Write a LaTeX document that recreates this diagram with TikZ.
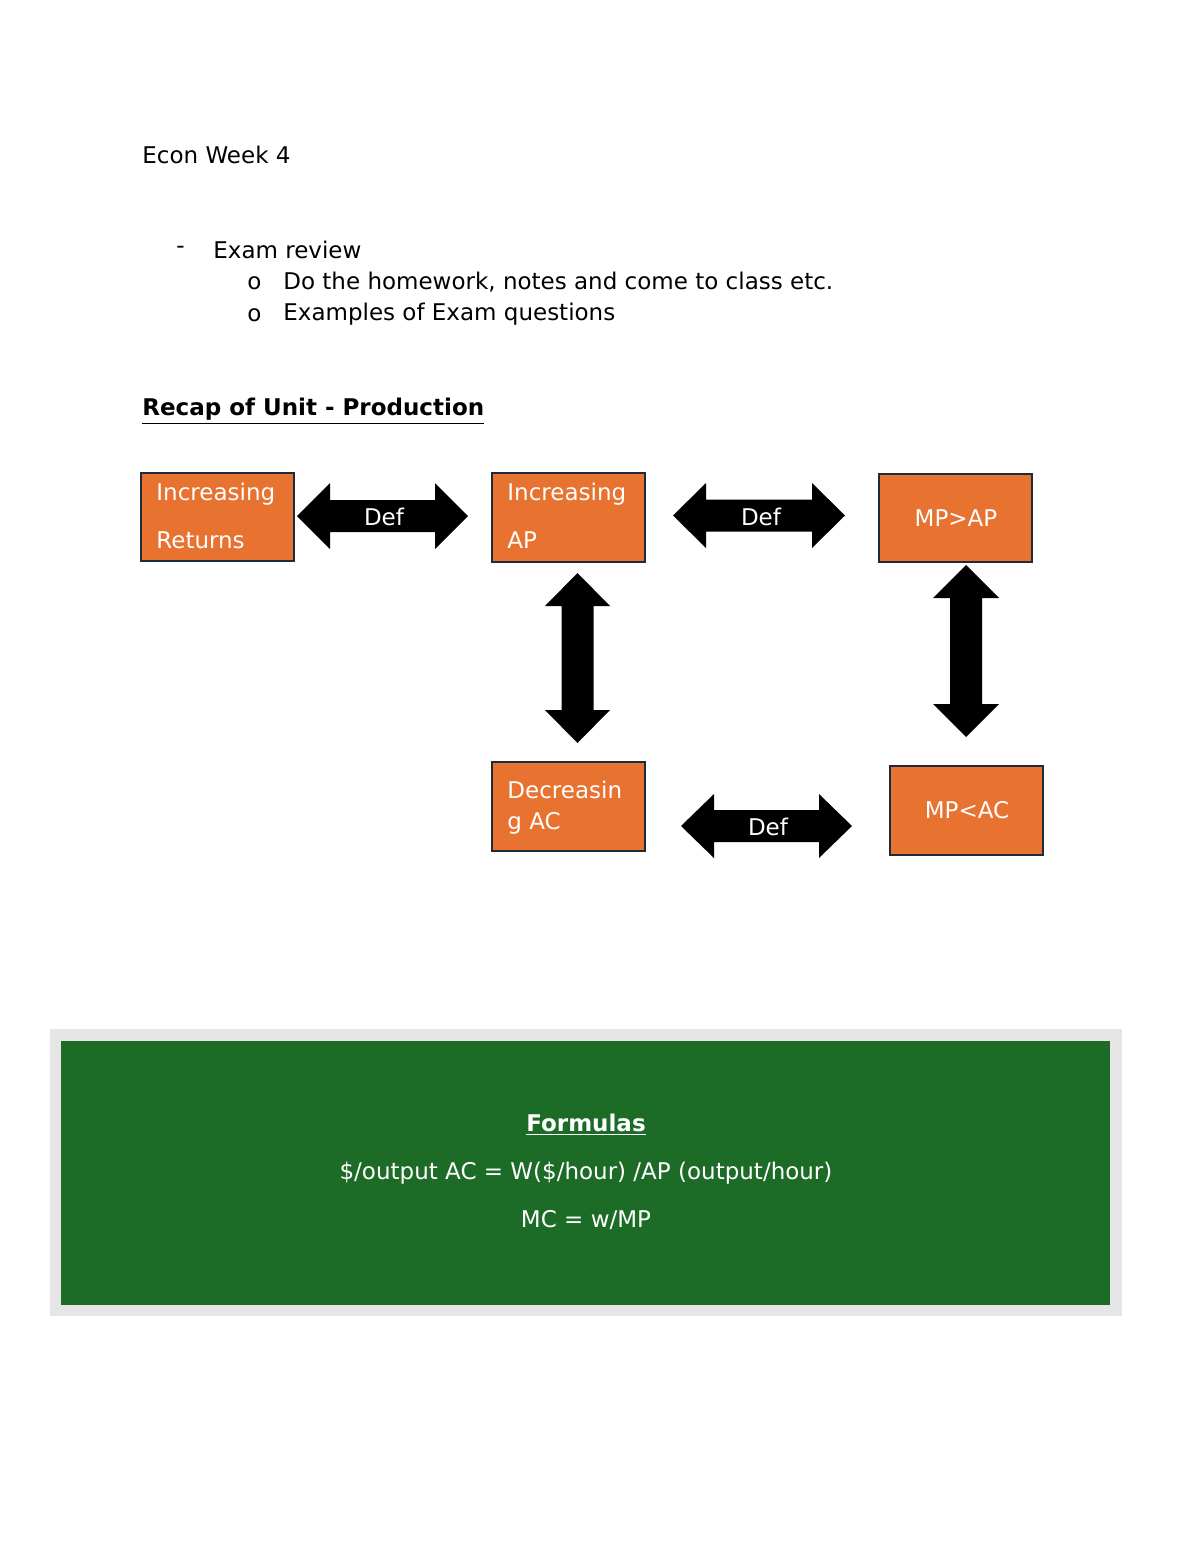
\documentclass[tikz,border=0pt]{standalone}
\usepackage{fontspec}
\setmainfont{DejaVu Sans}
\definecolor{org}{HTML}{E8722F}
\definecolor{bord}{HTML}{1E2B38}
\definecolor{grn}{HTML}{1C6B27}
\definecolor{gry}{HTML}{E6E6E6}
\begin{document}
\begin{tikzpicture}[x=0.5pt,y=-0.5pt,
  box/.style={fill=org,draw=bord,line width=1.2pt},
  bt/.style={text=white,font=\fontsize{11.5}{13}\selectfont,anchor=west,inner sep=0},
  tx/.style={font=\fontsize{11.5}{13}\selectfont,anchor=west,inner sep=0},
  def/.style={text=white,font=\fontsize{11.5}{13}\selectfont,inner sep=0}]
\useasboundingbox (0,0) rectangle (1200,1553);
\node[tx] (t1) at (142,155) {Econ Week 4};
\node[tx] (d1) at (176,250) {-};
\node[tx] (t2) at (213,250) {Exam review};
\node[tx] (b1) at (247,283) {o};
\node[tx] (t3) at (283,282) {Do the homework, notes and come to class etc.};
\node[tx] (b2) at (247,315) {o};
\node[tx] (t4) at (283,314) {Examples of Exam questions};
\node[tx,font=\fontsize{11.5}{13}\selectfont\bfseries] (t5) at (142,411) {\underline{Recap of Unit - Production}};
% boxes
\draw[box] (141,473) rectangle (294,561);
\draw[box] (492,473) rectangle (645,562);
\draw[box] (879,474) rectangle (1032,562);
\draw[box] (492,762) rectangle (645,851);
\draw[box] (890,766) rectangle (1043,855);
\node[bt] (r1) at (156,494) {Increasing};
\node[bt] (r2) at (156,540) {Returns};
\node[bt] (a1) at (507,494) {Increasing};
\node[bt] (a2) at (507,540) {AP};
\node[bt,anchor=center] (m1) at (956,518) {MP>AP};
\node[bt] (c1) at (507,790) {Decreasin};
\node[bt] (c2) at (507,823) {g AC};
\node[bt,anchor=center] (m2) at (967,810) {MP<AC};
% block arrows
\foreach \xa/\xb/\ya/\yb in {297/468/483/549, 673/845/483/548, 681/852/794/858}{
  \pgfmathsetmacro\ym{(\ya+\yb)/2}
  \fill (\xa,\ym) -- (\xa+33,\ya) -- (\xa+33,\ym-16) -- (\xb-33,\ym-16) -- (\xb-33,\ya) -- (\xb,\ym)
     -- (\xb-33,\yb) -- (\xb-33,\ym+16) -- (\xa+33,\ym+16) -- (\xa+33,\yb) -- cycle;
}
\foreach \xa/\xb/\ya/\yb in {545/610/573/743, 933/999/565/737}{
  \pgfmathsetmacro\xm{(\xa+\xb)/2}
  \fill (\xm,\ya) -- (\xb,\ya+33) -- (\xm+16,\ya+33) -- (\xm+16,\yb-33) -- (\xb,\yb-33) -- (\xm,\yb)
     -- (\xa,\yb-33) -- (\xm-16,\yb-33) -- (\xm-16,\ya+33) -- (\xa,\ya+33) -- cycle;
}
\node[def] (e1) at (384,517) {Def};
\node[def] (e2) at (761,517) {Def};
\node[def] (e3) at (768,827) {Def};
% formula box
\fill[gry] (50,1029) rectangle (1122,1316);
\fill[grn] (61,1041) rectangle (1110,1305);
\node[def,font=\fontsize{11.5}{13}\selectfont\bfseries] (f0) at (586,1125) {\underline{Formulas}};
\node[def] (f1) at (586,1173) {\$/output AC = W(\$/hour) /AP (output/hour)};
\node[def] (f2) at (586,1220) {MC = w/MP};
\end{tikzpicture}
\end{document}
